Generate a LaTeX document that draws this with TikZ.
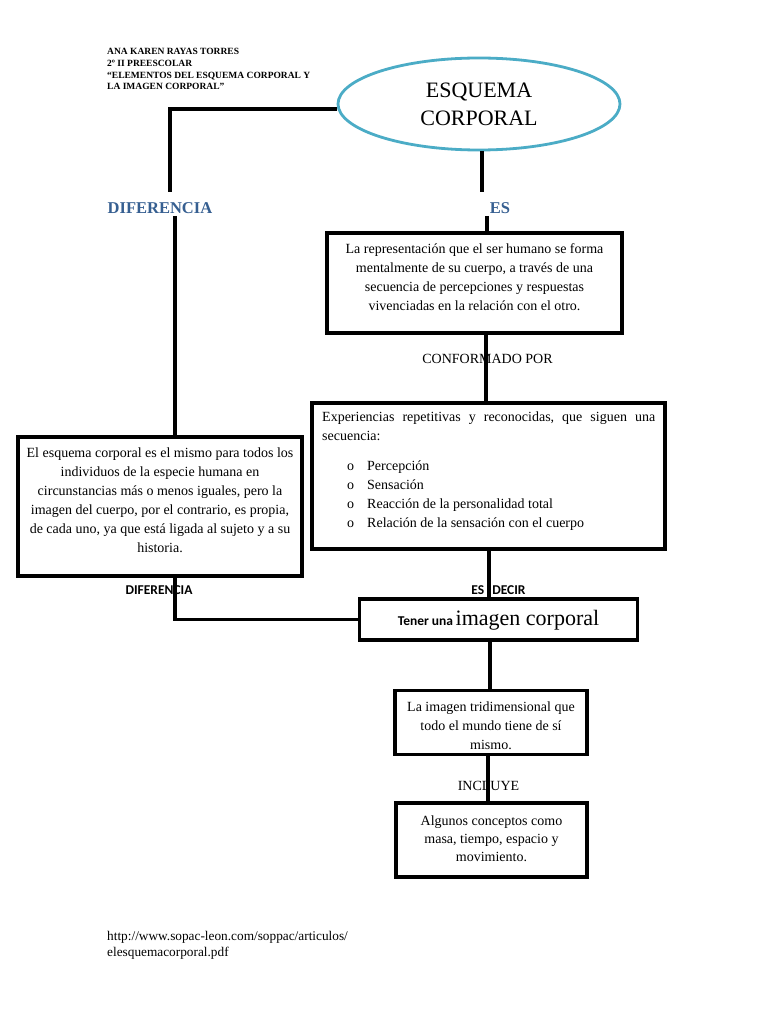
\documentclass[tikz,border=0pt]{standalone}
\usepackage{fontspec}
\setmainfont{Liberation Serif}
\newfontfamily\calib{Carlito}
\usetikzlibrary{shapes.geometric}
\definecolor{ellblue}{HTML}{4BACC6}
\definecolor{hdblue}{HTML}{365F91}
\newcommand\bodyfont{\fontsize{14}{19}\selectfont}
\begin{document}
\begin{tikzpicture}[x=1pt,y=-1pt,
  box/.style={draw=black, line width=3.3pt, inner sep=0pt},
  conn/.style={draw=black, line width=3.8pt},
  txt/.style={inner sep=0pt, align=center, font=\bodyfont},
  heading/.style={inner sep=0pt, font=\fontsize{16.5}{20}\selectfont\bfseries, text=hdblue},
  sanslabel/.style={inner sep=0pt, font=\calib\bfseries\fontsize{13.5}{16}\selectfont},
]
\useasboundingbox[fill=white] (0,0) rectangle (768,1024);

% header
\node[anchor=north west, inner sep=0pt, align=left, font=\fontsize{9.5}{11.67}\selectfont\bfseries] (hdr) at (107,48.4)
  {ANA KAREN RAYAS TORRES\\2º II PREESCOLAR\\“ELEMENTOS DEL ESQUEMA CORPORAL Y\\LA IMAGEN CORPORAL”};

% title ellipse
\node[ellipse, draw=ellblue, line width=2.8pt, minimum width=282pt, minimum height=92pt, inner sep=0pt,
  align=center, font=\fontsize{22}{28}\selectfont] (esq) at (479,104) {ESQUEMA\\CORPORAL};

% headings
\node[heading] (dif1) at (160,208) {DIFERENCIA};
\node[heading] (es1) at (500,208) {ES};

% boxes
\node[box, minimum width=295pt, minimum height=100pt] (rep) at (474.5,283) {};
\node[txt] (rept) at (474.5,277) {La representación que el ser humano se forma\\mentalmente de su cuerpo, a través de una\\secuencia de percepciones y respuestas\\vivenciadas en la relación con el otro.};

\node[inner sep=0pt, font=\fontsize{14}{16}\selectfont] (conf) at (487.5,359) {CONFORMADO POR};

\node[box, minimum width=353pt, minimum height=146pt] (exp) at (488.5,476) {};
\node[anchor=north west, inner sep=0pt, align=left, font=\bodyfont] (expt) at (322,412)
  {\hbox to 333pt{Experiencias\hfill repetitivas\hfill y\hfill reconocidas,\hfill que\hfill siguen\hfill una}\\
   secuencia:\\[11pt]
   \hspace*{25pt}\makebox[20pt][l]{o}Percepción\\
   \hspace*{25pt}\makebox[20pt][l]{o}Sensación\\
   \hspace*{25pt}\makebox[20pt][l]{o}Reacción de la personalidad total\\
   \hspace*{25pt}\makebox[20pt][l]{o}Relación de la sensación con el cuerpo};

\node[box, minimum width=284pt, minimum height=139pt] (lft) at (160,506.5) {};
\node[txt] (lftt) at (160,500.5) {El esquema corporal es el mismo para todos los\\individuos de la especie humana en\\circunstancias más o menos iguales, pero la\\imagen del cuerpo, por el contrario, es propia,\\de cada uno, ya que está ligada al sujeto y a su\\historia.};

\node[sanslabel] (dif2) at (159,590) {DIFERENCIA};
\node[sanslabel] (esdec) at (498.5,590) {ES\hspace{8pt}DECIR};

\node[box, minimum width=278pt, minimum height=41pt] (ten) at (498.5,619.5) {};
\node[anchor=base, inner sep=0pt] (tent) at (498.5,625)
  {{\calib\bfseries\fontsize{13.5}{15}\selectfont Tener una} {\fontsize{22}{24}\selectfont imagen corporal}};

\node[box, minimum width=192pt, minimum height=64pt] (tri) at (491,722.5) {};
\node[txt] (trit) at (491,726) {La imagen tridimensional que\\todo el mundo tiene de sí\\mismo.};

\node[inner sep=0pt, font=\fontsize{14}{16}\selectfont] (incl) at (488.5,786) {INCLUYE};

\node[box, minimum width=191pt, minimum height=74pt] (alg) at (491.5,840) {};
\node[txt, font=\fontsize{14}{18}\selectfont] (algt) at (491.5,839) {Algunos conceptos como\\masa, tiempo, espacio y\\movimiento.};

% source
\node[anchor=north west, inner sep=0pt, align=left, font=\fontsize{13.3}{15.5}\selectfont] (url) at (107,931.5)
  {http://www.sopac-leon.com/soppac/articulos/\\elesquemacorporal.pdf};

% connectors
\coordinate (k1) at (170,192);
\coordinate (k2) at (482,192);
\coordinate (k3) at (175,216);
\coordinate (k4) at (487,216);
\coordinate (k5) at (486,359);
\coordinate (k6) at (175,590);
\coordinate (k7) at (489,590);
\coordinate (k9) at (490,660);
\coordinate (k8) at (488,786);
\draw[conn] (esq.182) -| (k1);
\draw[conn] (esq.south -| k2) -- (k2);
\draw[conn] (k3) -- (k3 |- lft.north);
\draw[conn] (k4) -- (k4 |- rep.north);
\draw[conn] (rep.south -| k5) -- (exp.north -| k5);
\draw[conn] (lft.south -| k6) |- (ten.west);
\draw[conn] (exp.south -| k7) -- (ten.north -| k7);
\draw[conn] (ten.south -| k9) -- (tri.north -| k9);
\draw[conn] (tri.south -| k8) -- (alg.north -| k8);
\end{tikzpicture}
\end{document}
